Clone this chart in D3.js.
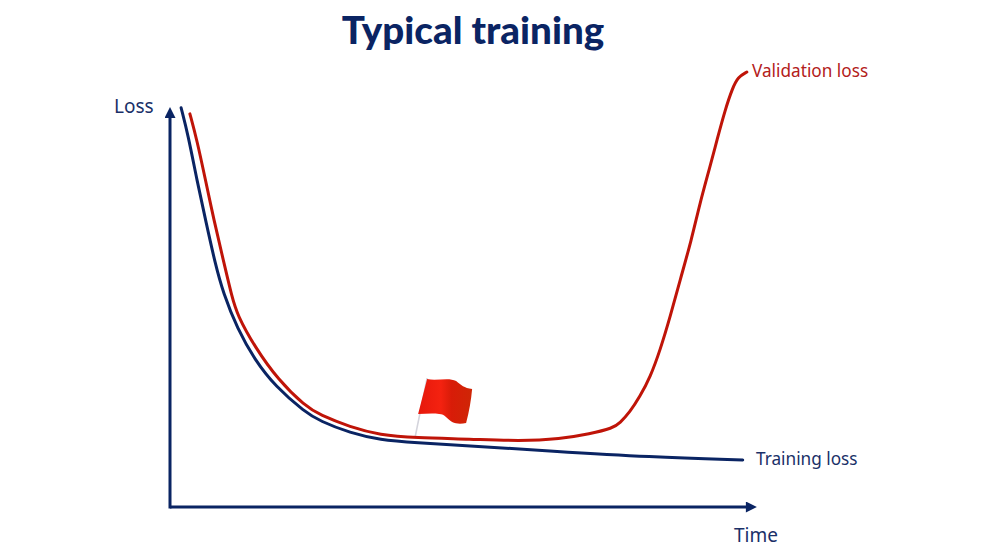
<!DOCTYPE html>
<html>
<head>
<meta charset="utf-8">
<style>
    html, body { margin: 0; padding: 0; background: #fff; }
    svg { display: block; }
    .label { font-family: "Noto Sans", sans-serif; font-size: 17.2px; }
    .axis-label { font-family: "Noto Sans", sans-serif; font-size: 19px; }
    .title { font-family: Lato, sans-serif; font-size: 38.5px; font-weight: 900; }
</style>
</head>
<body>
<svg width="983" height="552"></svg>
<script src="https://d3js.org/d3.v7.min.js"></script>
<script>
// values, time and loss both in percent of the axis length
var trainTime = [1.9, 3.1, 4.6, 6.2, 7.7, 9.1, 11.5, 14.5, 18.0, 23.1, 25.6, 30.8, 35.9, 41.9, 51.3, 65.0, 82.1, 97.9];
var trainLoss = [99.3, 92.5, 81.3, 70.6, 60.7, 53.2, 44.4, 36.6, 30.0, 23.6, 21.4, 18.4, 16.7, 16.0, 15.2, 13.9, 12.4, 11.7];

var valTime = [3.4, 4.6, 6.0, 7.5, 9.1, 10.6, 11.5, 14.5, 18.5, 23.1, 25.6, 30.8, 35.9, 41.9, 51.3, 59.8, 66.7, 71.8, 75.7, 76.9, 78.6, 80.3, 82.1, 83.8, 85.5, 87.2, 89.1, 90.6, 92.3, 93.5, 94.9, 96.1, 97.1, 98.6];
var valLoss = [97.8, 91.3, 81.8, 71.4, 61.5, 52.2, 47.8, 39.8, 31.6, 25.1, 22.9, 19.9, 17.9, 17.2, 16.9, 16.4, 16.9, 18.2, 19.6, 20.9, 23.6, 27.4, 32.3, 39.1, 47.3, 56.5, 66.2, 75.7, 84.6, 91.3, 98.8, 104.0, 107.0, 108.2];

// where training should stop: foot of the flag pole
var stopTime = [41.9];
var stopLoss = [17.4];

var titleText = "Typical training";
var xLabel = "Time";
var yLabel = "Loss";
var trainLabel = "Training loss";
var valLabel = "Validation loss";

var navy = "#0a2463", red = "#bf1408";

var svg = d3.select("svg");

var x = d3.scaleLinear().domain([0, 100]).range([170, 755]);
var y = d3.scaleLinear().domain([0, 100]).range([507, 105]);

var line = d3.line()
    .x(function(d){ return x(d[0]); })
    .y(function(d){ return y(d[1]); })
    .curve(d3.curveBasis);

var defs = svg.append("defs");

defs.append("marker")
    .attr("id", "arrow")
    .attr("viewBox", "0 0 10 10")
    .attr("refX", 1)
    .attr("refY", 5)
    .attr("markerUnits", "userSpaceOnUse")
    .attr("markerWidth", 12)
    .attr("markerHeight", 11)
    .attr("orient", "auto")
    .append("path")
    .attr("d", "M0,0L10,5L0,10Z")
    .attr("fill", navy);

var grad = defs.append("linearGradient").attr("id", "flagFill");
grad.append("stop").attr("offset", "0%").attr("stop-color", "#e6180c");
grad.append("stop").attr("offset", "42%").attr("stop-color", "#f42210");
grad.append("stop").attr("offset", "62%").attr("stop-color", "#d81c08");
grad.append("stop").attr("offset", "100%").attr("stop-color", "#cf2606");

// axes, no ticks in the original
svg.append("path")
    .attr("d", "M" + x(0) + "," + (y(0) + 1.5) + "V" + (y(100) + 12))
    .attr("fill", "none").attr("stroke", navy).attr("stroke-width", 3)
    .attr("marker-end", "url(#arrow)");
svg.append("path")
    .attr("d", "M" + x(0) + "," + y(0) + "H" + (x(100) - 8))
    .attr("fill", "none").attr("stroke", navy).attr("stroke-width", 3)
    .attr("marker-end", "url(#arrow)");

// flag sits under the curves
var fx = x(stopTime[0]), fy = y(stopLoss[0]);
var flag = svg.append("g").attr("transform", "translate(" + fx + "," + fy + ")");
flag.append("line")
    .attr("x1", 0).attr("y1", 0).attr("x2", 12).attr("y2", -59)
    .attr("stroke", "#d4d4dc").attr("stroke-width", 1.6);
flag.append("path")
    .attr("d", "M12,-58 C22,-56 34,-60 41,-56 C46,-52 49,-49 57,-48 C56,-37 54,-25 51,-14 C46,-13 41,-13 37,-15 C32,-18 30,-23 24,-23 C17,-24 10,-23 3,-23 Z")
    .attr("fill", "url(#flagFill)");

svg.append("path")
    .attr("d", line(d3.zip(trainTime, trainLoss)))
    .attr("fill", "none").attr("stroke", navy).attr("stroke-width", 3)
    .attr("stroke-linecap", "round");
svg.append("path")
    .attr("d", line(d3.zip(valTime, valLoss)))
    .attr("fill", "none").attr("stroke", red).attr("stroke-width", 3)
    .attr("stroke-linecap", "round");

svg.append("text").attr("class", "title")
    .attr("x", 473).attr("y", 44).attr("text-anchor", "middle")
    .attr("fill", navy).text(titleText);
svg.append("text").attr("class", "axis-label")
    .attr("x", 114).attr("y", 113).attr("fill", "#1a3068").text(yLabel);
svg.append("text").attr("class", "axis-label")
    .attr("x", 734).attr("y", 542).attr("fill", "#1a3068").text(xLabel);
svg.append("text").attr("class", "label")
    .attr("x", 756).attr("y", 465).attr("fill", "#1a3068").text(trainLabel);
svg.append("text").attr("class", "label")
    .attr("x", 752).attr("y", 77).attr("fill", "#b3201a").text(valLabel);
</script>
</body>
</html>
